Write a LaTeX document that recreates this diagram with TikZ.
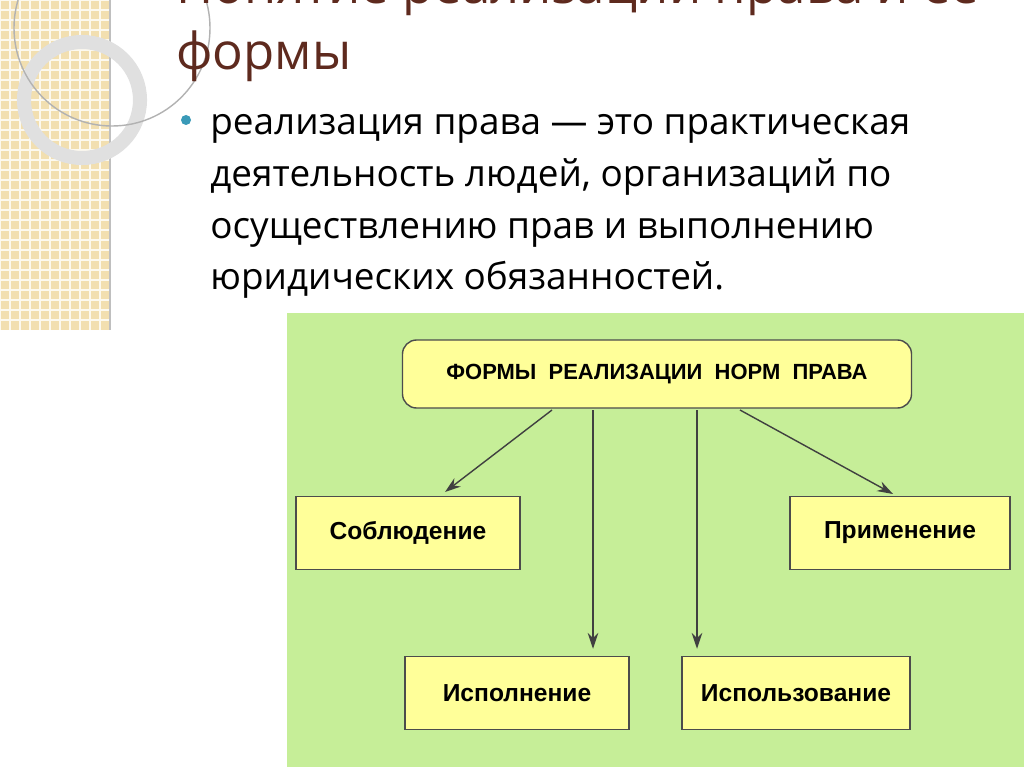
\documentclass[tikz,border=0pt]{standalone}
\usepackage{fontspec}
\setmainfont{Open Sans}
\newfontfamily\boxfont{Liberation Sans}
\usetikzlibrary{arrows.meta, positioning}
\definecolor{panelgreen}{HTML}{C6EE98}
\definecolor{boxyellow}{HTML}{FFFF99}
\definecolor{titlebrown}{HTML}{5E2A1E}
\definecolor{sidebeige}{HTML}{F2DFB0}
\definecolor{bulletblue}{HTML}{3A9AB8}
\newlength{\pgfxx}
\setlength{\pgfxx}{0.02cm}
\tikzset{
    form/.style={
           rectangle,
           draw=black!70, thick,
           fill=boxyellow,
           minimum width=224\pgfxx, minimum height=73\pgfxx,
           font=\boxfont\bfseries\fontsize{14}{17}\selectfont,
           text centered,
           },
    link/.style={->, thick, black!75},
}
\begin{document}
\begin{tikzpicture}[x=0.02cm, y=-0.02cm, >={Stealth[length=9pt,width=6pt]}]
 \useasboundingbox (0,0) rectangle (1024,767);
 \fill[white] (0,0) rectangle (1024,767);

 % side panel
 \fill[sidebeige] (0,0) rectangle (110,330);
 \foreach \k in {0,10,...,320} {
  \draw[white!80!sidebeige, line width=0.6pt] (0,\k) -- (110,\k);
 }
 \foreach \k in {0,10,...,110} {
  \draw[white!80!sidebeige, line width=0.6pt] (\k,0) -- (\k,330);
 }
 \draw[black!25, line width=1.5pt] (110,0) -- (110,330);
 \draw[white!88!black, line width=8pt] (82,100) circle (58);
 \draw[white!70!black, line width=0.8pt] (112,28) circle (98);

 % title and text
 \node[anchor=base west, text=titlebrown, font=\fontsize{29}{34}\selectfont] (TITLE_TOP) at (170,4)
  {Понятие реализации права и ее};
 \node[anchor=base west, text=titlebrown, font=\fontsize{29}{34}\selectfont] (TITLE) at (170,70)
  {формы};
 \fill[bulletblue] (186,120) circle (5);
 \node[anchor=north west, align=left, inner sep=0pt,
       font=\fontsize{21}{29.5}\selectfont] (DEF) at (210,114)
 {%
  реализация права — это практическая\\
  деятельность людей, организаций по\\
  осуществлению прав и выполнению\\
  юридических обязанностей.
 };

 % diagram
 \fill[panelgreen] (287,313) rectangle (1024,767);

 \node[form, rounded corners=8pt,
  minimum width=509\pgfxx, minimum height=68\pgfxx,
  font=\boxfont\bfseries\fontsize{12.5}{15}\selectfont] (FORMS) at (657,374)
 {%
  ФОРМЫ\ \ РЕАЛИЗАЦИИ\ \ НОРМ\ \ ПРАВА
 };

 \node[form] (OBSERVE) at (408,533) {Соблюдение};
 \node[form, minimum width=220\pgfxx] (APPLY) at (900,533) {Применение};
 \node[form] (EXECUTE) at (517,693) {Исполнение};
 \node[form, minimum width=228\pgfxx] (USE) at (796,693) {Использование};

 \coordinate (A1) at (552,410);
 \coordinate (A2) at (593,410);
 \coordinate (A3) at (697,410);
 \coordinate (A4) at (740,410);

 \draw[link] (A1) -- (445,492);
 \draw[link, shorten >=4pt] (A2) -- (A2 |- EXECUTE.north);
 \draw[link, shorten >=4pt] (A3) -- (A3 |- USE.north);
 \draw[link] (A4) -- (893,494);

\end{tikzpicture}
\end{document}
